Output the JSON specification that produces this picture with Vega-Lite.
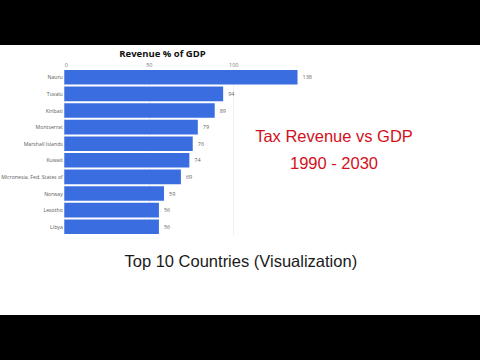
{
  "$schema": "https://vega.github.io/schema/vega-lite/v6.json",
  "width": 480,
  "height": 270,
  "autosize": {"type": "none"},
  "padding": {"top": 45, "bottom": 45, "left": 0, "right": 0},
  "background": "black",
  "title": {
    "text": ["Tax Revenue vs GDP", "1990 - 2030"],
    "anchor": "middle",
    "frame": "group",
    "dx": 94,
    "dy": 131,
    "font": "Liberation Sans",
    "fontSize": 16.5,
    "fontWeight": "normal",
    "color": "#d3101c",
    "lineHeight": 27
  },
  "data": {
    "values": [
      {"country": "Nauru", "revenue": 138},
      {"country": "Tuvalu", "revenue": 94},
      {"country": "Kiribati", "revenue": 89},
      {"country": "Montserrat", "revenue": 79},
      {"country": "Marshall Islands", "revenue": 76},
      {"country": "Kuwait", "revenue": 74},
      {"country": "Micronesia, Fed. States of", "revenue": 69},
      {"country": "Norway", "revenue": 59},
      {"country": "Lesotho", "revenue": 56},
      {"country": "Libya", "revenue": 56}
    ]
  },
  "encoding": {
    "y": {
      "field": "country",
      "type": "nominal",
      "sort": null,
      "scale": {"range": [24, 190], "paddingInner": 0.12, "paddingOuter": 0.06},
      "axis": {
        "orient": "left",
        "offset": -64.3,
        "domain": false,
        "ticks": false,
        "labelFont": "Open Sans",
        "labelFontSize": 5.2,
        "labelColor": "#5a5a5a",
        "labelPadding": 2,
        "title": "Top 10 Countries (Visualization)",
        "titleAngle": 0,
        "titleX": 176,
        "titleY": 221,
        "titleAlign": "center",
        "titleBaseline": "alphabetic",
        "titleFont": "Liberation Sans",
        "titleFontSize": 16.5,
        "titleFontWeight": "normal",
        "titleColor": "#1a1a1a"
      }
    },
    "x": {
      "field": "revenue",
      "type": "quantitative",
      "scale": {"domain": [0, 140], "range": [64.3, 300.9], "nice": false, "zero": true},
      "axis": {
        "orient": "top",
        "offset": -24,
        "values": [0, 50, 100],
        "domain": false,
        "ticks": false,
        "grid": true,
        "gridColor": "#f0f0f0",
        "labelFont": "Open Sans",
        "labelFontSize": 5.5,
        "labelColor": "#777777",
        "labelPadding": 2,
        "title": "Revenue % of GDP",
        "titleFont": "Open Sans",
        "titleFontSize": 9.5,
        "titleFontWeight": "bold",
        "titleColor": "#111111",
        "titleX": 162,
        "titleY": -12.3,
        "titleAlign": "center",
        "titleBaseline": "alphabetic"
      }
    }
  },
  "layer": [
    {"mark": {"type": "bar", "color": "#3a6ee0"}},
    {
      "mark": {"type": "text", "align": "left", "baseline": "middle", "dx": 5, "font": "Open Sans", "fontSize": 5.5, "color": "#666666"},
      "encoding": {"text": {"field": "revenue", "type": "quantitative"}}
    }
  ],
  "config": {"view": {"fill": "white", "stroke": null}}
}
